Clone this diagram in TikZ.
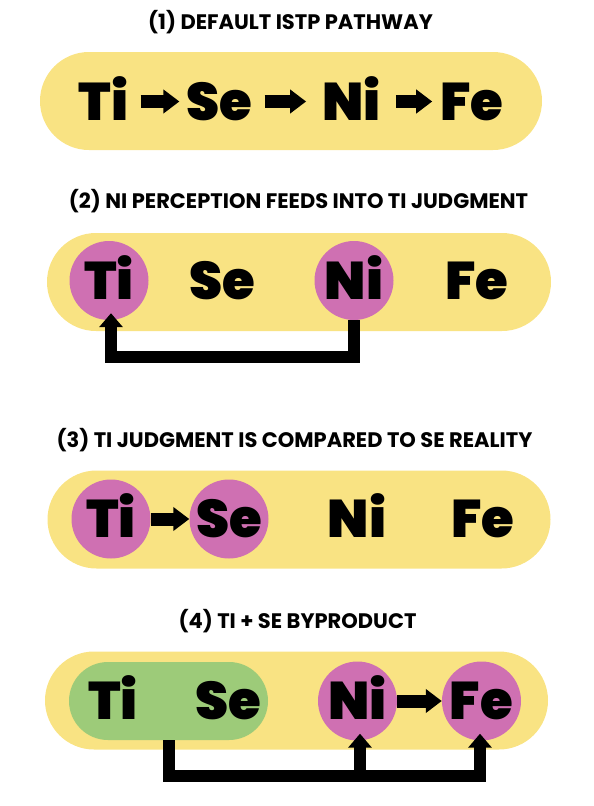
\documentclass[tikz,border=0pt]{standalone}
\usepackage{fontspec}
\setmainfont{Poppins}
\newfontfamily\heavyfont{Poppins Black}
\usepackage{tikz}
\usetikzlibrary{shapes.misc, arrows.meta}
\definecolor{pillyellow}{HTML}{F9E383}
\definecolor{ballpink}{HTML}{CF70B2}
\definecolor{pairgreen}{HTML}{9DCB79}

\begin{document}
\begin{tikzpicture}[x=1pt, y=-1pt,
		pill_node/.style={rounded rectangle, fill=pillyellow, minimum height=98pt, minimum width=503pt, inner sep=0pt},
		word_node/.style={font=\heavyfont\fontsize{53}{53}\selectfont, text height=37pt, text depth=0pt, inner sep=0pt},
		ball_node/.style={word_node, circle, fill=ballpink, minimum size=79pt},
		title_node/.style={font=\bfseries\fontsize{21}{21}\selectfont, text height=14.5pt, text depth=0pt, inner sep=0pt},
		flow/.style={-{Triangle[length=16pt,width=23pt]}, line width=13pt},
		feed/.style={-{Triangle[length=14pt,width=23pt]}, line width=12pt, line join=miter}]
	\useasboundingbox (0,0) rectangle (594,806);
	
	% (1) default pathway
	\node[title_node] (t1) at (290.5,22.5) {(1) DEFAULT ISTP PATHWAY};
	\node[pill_node, minimum width=502pt] (p1) at (291,101) {};
	\node[word_node] (ti1) at (103.5,101.5) {Ti};
	\node[word_node] (se1) at (219.5,101.5) {Se};
	\node[word_node] (ni1) at (351.5,101.5) {Ni};
	\node[word_node] (fe1) at (472,101.5) {Fe};
	\draw[flow, shorten <=12pt, shorten >=7pt] (ti1.east) -- (se1.west);
	\draw[flow, shorten <=12pt, shorten >=16pt] (se1.east) -- (ni1.west);
	\draw[flow, shorten <=15pt, shorten >=8pt] (ni1.east) -- (fe1.west);
	
	% (2) Ni feeds Ti
	\node[title_node] (t2) at (298.5,201.5) {(2) NI PERCEPTION FEEDS INTO TI JUDGMENT};
	\node[pill_node, minimum width=504pt] (p2) at (299,282) {};
	\node[ball_node] (ti2) at (109,280.5) {Ti};
	\node[word_node] (se2) at (222,280.5) {Se};
	\node[ball_node] (ni2) at (354,280.5) {Ni};
	\node[word_node] (fe2) at (477,280.5) {Fe};
	\draw[feed] (ni2.south) -- ++(0,37) -| ([xshift=2pt, yshift=7pt]ti2.south);
	
	% (3) Ti compared to Se
	\node[title_node] (t3) at (294.5,440) {(3) TI JUDGMENT IS COMPARED TO SE REALITY};
	\node[pill_node] (p3) at (299,519.5) {};
	\node[ball_node] (ti3) at (111,519) {Ti};
	\node[ball_node] (se3) at (229,519) {Se};
	\node[word_node] (ni3) at (357,519) {Ni};
	\node[word_node] (fe3) at (483,519) {Fe};
	\draw[flow] (ti3) -- (se3);
	
	% (4) Ti + Se byproduct
	\node[title_node] (t4) at (297.5,621.5) {(4) TI + SE BYPRODUCT};
	\node[pill_node] (p4) at (296.5,700.5) {};
	\node[rounded rectangle, fill=pairgreen, minimum width=199pt, minimum height=78pt, inner sep=0pt] (ts4) at (168.5,701) {};
	\node[word_node] (ti4) at (113,701) {Ti};
	\node[word_node] (se4) at (228,701) {Se};
	\node[ball_node] (ni4) at (357.5,701) {Ni};
	\node[ball_node] (fe4) at (481.5,701) {Fe};
	\draw[flow] (ni4) -- (fe4);
	\draw[feed] (ts4.south) -- ++(0,35.5) coordinate (b4) -| ([xshift=-1.5pt, yshift=7pt]fe4.south);
	\draw[feed] ([xshift=2.5pt]ni4.south |- b4) -- ([xshift=2.5pt, yshift=7pt]ni4.south);
\end{tikzpicture}
\end{document}
